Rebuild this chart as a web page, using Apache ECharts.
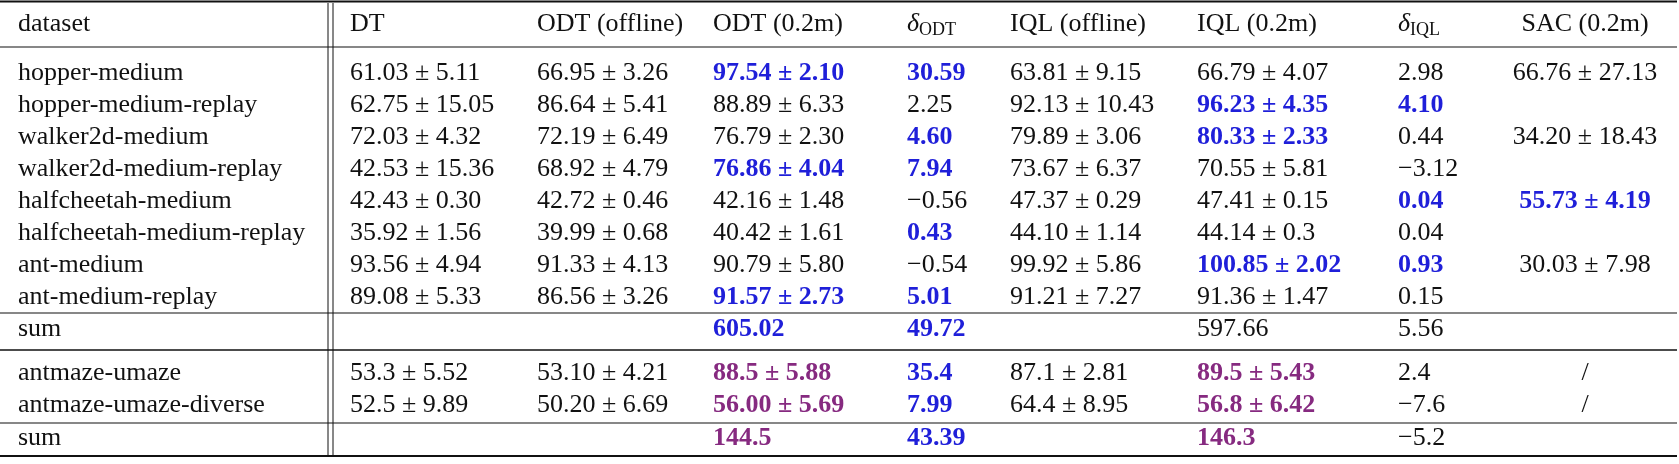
<!DOCTYPE html>
<html><head><meta charset="utf-8">
<script src="https://cdn.jsdelivr.net/npm/echarts@6/dist/echarts.min.js"></script>
<style>html,body{margin:0;padding:0;background:#fff}#c{width:1679px;height:464px}</style>
</head><body><div id="c"></div>
<script>
// ---- data ----
var headers = ['dataset','DT','ODT (offline)','ODT (0.2m)','δ|ODT','IQL (offline)','IQL (0.2m)','δ|IQL','SAC (0.2m)'];
var datasets = ['hopper-medium','hopper-medium-replay','walker2d-medium','walker2d-medium-replay','halfcheetah-medium','halfcheetah-medium-replay','ant-medium','ant-medium-replay','sum','antmaze-umaze','antmaze-umaze-diverse','sum'];
var colDT = ['61.03 ± 5.11','62.75 ± 15.05','72.03 ± 4.32','42.53 ± 15.36','42.43 ± 0.30','35.92 ± 1.56','93.56 ± 4.94','89.08 ± 5.33','','53.3 ± 5.52','52.5 ± 9.89',''];
var colODToff = ['66.95 ± 3.26','86.64 ± 5.41','72.19 ± 6.49','68.92 ± 4.79','42.72 ± 0.46','39.99 ± 0.68','91.33 ± 4.13','86.56 ± 3.26','','53.10 ± 4.21','50.20 ± 6.69',''];
var colODTon = ['97.54 ± 2.10','88.89 ± 6.33','76.79 ± 2.30','76.86 ± 4.04','42.16 ± 1.48','40.42 ± 1.61','90.79 ± 5.80','91.57 ± 2.73','605.02','88.5 ± 5.88','56.00 ± 5.69','144.5'];
var colDeltaODT = ['30.59','2.25','4.60','7.94','−0.56','0.43','−0.54','5.01','49.72','35.4','7.99','43.39'];
var colIQLoff = ['63.81 ± 9.15','92.13 ± 10.43','79.89 ± 3.06','73.67 ± 6.37','47.37 ± 0.29','44.10 ± 1.14','99.92 ± 5.86','91.21 ± 7.27','','87.1 ± 2.81','64.4 ± 8.95',''];
var colIQLon = ['66.79 ± 4.07','96.23 ± 4.35','80.33 ± 2.33','70.55 ± 5.81','47.41 ± 0.15','44.14 ± 0.3','100.85 ± 2.02','91.36 ± 1.47','597.66','89.5 ± 5.43','56.8 ± 6.42','146.3'];
var colDeltaIQL = ['2.98','4.10','0.44','−3.12','0.04','0.04','0.93','0.15','5.56','2.4','−7.6','−5.2'];
var colSAC = ['66.76 ± 27.13','','34.20 ± 18.43','','55.73 ± 4.19','','30.03 ± 7.98','','','/','/',''];
// highlight: b = bold blue, p = bold purple
var hlODTon = ['b','','','b','','','','b','b','p','p','p'];
var hlDeltaODT = ['b','','b','b','','b','','b','b','b','b','b'];
var hlIQLon = ['','b','b','','','','b','','','p','p','p'];
var hlDeltaIQL = ['','b','','','b','','b','','','','',''];
var hlSAC = ['','','','','b','','','','','','',''];

// ---- layout ----
var columns = [datasets,colDT,colODToff,colODTon,colDeltaODT,colIQLoff,colIQLon,colDeltaIQL,colSAC];
var highlights = [null,null,null,hlODTon,hlDeltaODT,null,hlIQLon,hlDeltaIQL,hlSAC];
var colX = [18,350,537,713,907,1010,1197,1398,1585];
var colAlign = ['left','left','left','left','left','left','left','left','center'];
var rowY = [73,105,137,169,201,233,265,297,329,373,405,438];
var headerY = 24;
var hLines = [[1.5,2],[47,1.2],[313,1.2],[350,1.6],[423,1.2],[456,2]];
var vLines = [328,333];
var FS = 26, FONT = '"Liberation Serif","DejaVu Serif",serif';
var COLORS = {b:'#1f1fd9', p:'#862a80', '':'#111'};

var cells = [];
for (var c=0;c<columns.length;c++) for (var r=0;r<columns[c].length;r++) if (columns[c][r]!=='') cells.push([c,r]);
var heads = headers.map(function(h,i){return [i];});

var chart = echarts.init(document.getElementById('c'),null,{renderer:'canvas'});
chart.setOption({
  animation:false,
  grid:{left:0,right:0,top:0,bottom:0},
  xAxis:{type:'value',min:0,max:1679,show:false},
  yAxis:{type:'value',min:0,max:464,inverse:true,show:false},
  series:[
    {type:'custom',data:cells,renderItem:function(p,api){
      var c=api.value(0), r=api.value(1);
      var pt=api.coord([colX[c],rowY[r]]);
      var h=highlights[c]?highlights[c][r]:'';
      return {type:'text',x:pt[0],y:pt[1],style:{text:columns[c][r],fill:COLORS[h||''],
        font:(h?'bold ':'')+FS+'px '+FONT,align:colAlign[c],verticalAlign:'middle'}};
    }},
    {type:'custom',data:heads,renderItem:function(p,api){
      var c=api.value(0);
      var pt=api.coord([colX[c],headerY]);
      var parts=headers[c].split('|');
      var txt=parts.length>1?'{i|'+parts[0]+'}{s|'+parts[1]+'}':headers[c];
      return {type:'text',x:pt[0],y:pt[1],style:{text:txt,fill:'#111',font:FS+'px '+FONT,
        align:colAlign[c],verticalAlign:'middle',
        rich:{i:{fontStyle:'italic',fontSize:FS,fontFamily:FONT,fill:'#111'},
              s:{fontSize:18,fontFamily:FONT,fill:'#111',padding:[12,0,0,0]}}}};
    }},
    {type:'custom',data:hLines,renderItem:function(p,api){
      var a=api.coord([0,api.value(0)]), b=api.coord([1677,api.value(0)]);
      return {type:'line',shape:{x1:a[0],y1:a[1],x2:b[0],y2:b[1]},style:{stroke:'#111',lineWidth:api.value(1)}};
    }},
    {type:'custom',data:vLines.map(function(x){return [x];}),renderItem:function(p,api){
      var a=api.coord([api.value(0),3]), b=api.coord([api.value(0),455]);
      return {type:'line',shape:{x1:a[0],y1:a[1],x2:b[0],y2:b[1]},style:{stroke:'#111',lineWidth:1}};
    }}
  ]
});
</script></body></html>
